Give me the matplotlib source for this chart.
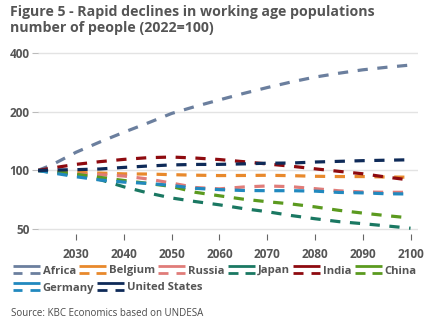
import matplotlib
matplotlib.use("Agg")
import matplotlib.pyplot as plt
from matplotlib.legend_handler import HandlerBase
from matplotlib.lines import Line2D
from matplotlib.ticker import FixedLocator, FixedFormatter, NullLocator

plt.rcParams['font.family'] = ['Open Sans', 'DejaVu Sans']

# Working-age population index, 2022 = 100 (UN DESA projections)
years = [2022, 2025, 2030, 2035, 2040, 2045, 2050, 2055, 2060,
         2065, 2070, 2075, 2080, 2085, 2090, 2095, 2100]

africa = [100, 107, 124, 140, 157, 175, 196, 213, 230,
          248, 266, 284, 301, 315, 328, 338, 347]
belgium = [100, 99.8, 97.8, 97.0, 96.1, 95.9, 95.2, 94.6, 94.2,
           94.3, 94.5, 94.1, 93.4, 93.1, 93.1, 92.6, 92.4]
russia = [100, 98.5, 95.8, 95.1, 93.7, 90.5, 86.2, 81.8, 80.5,
          82.3, 83.3, 82.6, 80.7, 78.7, 77.6, 77.3, 77.3]
japan = [100, 97.8, 94.7, 89.8, 82.5, 76.8, 72.3, 69.3, 66.7,
         63.8, 61.5, 58.8, 56.6, 54.7, 53.4, 52.0, 50.6]
india = [100, 103, 107.5, 111, 114, 116.3, 117.2, 115.8, 113.8,
         111, 108, 105.2, 102, 99, 96.2, 92.5, 89.3]
china = [100, 99.3, 95.7, 92.2, 88.9, 85.9, 82.8, 77.3, 74.2,
         71.3, 69.2, 67.4, 65.1, 62.5, 60.5, 58.7, 57.1]
germany = [100, 97.3, 92.9, 89.4, 87.2, 85.9, 83.8, 81.0, 79.8,
           79.0, 78.8, 78.8, 78.4, 77.2, 76.8, 76.0, 75.8]
united_states = [100, 100.5, 101, 101.8, 103.7, 105.4, 106.8, 107.4, 107.5,
                 108.1, 109, 109.2, 110.5, 111.4, 112.3, 112.9, 113.5]

series = [
    ("Africa", africa, "#6B7F9E"),
    ("Belgium", belgium, "#E8892C"),
    ("Russia", russia, "#E07C79"),
    ("Japan", japan, "#1A7862"),
    ("India", india, "#8E0A0F"),
    ("China", china, "#5B9A1F"),
    ("Germany", germany, "#2189BF"),
    ("United States", united_states, "#0E2A58"),
]

y_ticks = [50, 100, 200, 400]
y_tick_labels = ["50", "100", "200", "400"]
x_ticks = [2030, 2040, 2050, 2060, 2070, 2080, 2090, 2100]

TEXT = "#555555"
GRID = "#E3E3E3"


class TwinBarHandler(HandlerBase):
    """Legend key: a solid bar above a split (dashed) bar."""

    def create_artists(self, legend, orig_handle, xdescent, ydescent,
                       width, height, fontsize, trans):
        c = orig_handle.get_color()
        ymid = height / 2.0 - ydescent
        x0 = -xdescent
        off = 2.4
        lw = 2.0
        top = Line2D([x0, x0 + width], [ymid + off, ymid + off],
                     color=c, lw=lw, solid_capstyle='butt', transform=trans)
        b1 = Line2D([x0, x0 + 0.36 * width], [ymid - off, ymid - off],
                    color=c, lw=lw, solid_capstyle='butt', transform=trans)
        b2 = Line2D([x0 + 0.64 * width, x0 + width], [ymid - off, ymid - off],
                    color=c, lw=lw, solid_capstyle='butt', transform=trans)
        return [top, b1, b2]


fig = plt.figure(figsize=(4.32, 3.32), dpi=100)
ax = fig.add_axes([0.0875, 0.2937, 0.8794, 0.553])

handles = []
for name, vals, col in series:
    ln, = ax.plot(years, vals, color=col, lw=2.3, linestyle=(0, (3.2, 3.0)),
                  dash_capstyle='butt', label=name)
    handles.append(ln)

ax.set_yscale('log')
ax.set_ylim(47, 410)
ax.set_xlim(2022, 2101.5)
ax.yaxis.set_major_locator(FixedLocator(y_ticks))
ax.yaxis.set_major_formatter(FixedFormatter(y_tick_labels))
ax.yaxis.set_minor_locator(NullLocator())
ax.set_xticks(x_ticks)
ax.set_xticklabels([str(x) for x in x_ticks])

for s in ax.spines.values():
    s.set_visible(False)
ax.grid(axis='y', color=GRID, lw=1.0)
ax.set_axisbelow(True)
ax.tick_params(axis='y', length=4, width=0.8, color="#BBBBBB", pad=2,
               labelsize=8.5, labelcolor=TEXT)
ax.tick_params(axis='x', length=4, width=0.8, color="#666666", pad=6,
               labelsize=8.5, labelcolor=TEXT)
for lab in ax.get_xticklabels() + ax.get_yticklabels():
    lab.set_fontweight('bold')

fig.text(10 / 432, 1 - 5 / 332,
         "Figure 5 - Rapid declines in working age populations\nnumber of people (2022=100)",
         ha='left', va='top', fontsize=10.2, fontweight='bold', color=TEXT,
         linespacing=1.22)

leg_kw = dict(frameon=False, borderpad=0, borderaxespad=0, handlelength=2.4,
              handletextpad=0.25, columnspacing=0.3,
              handler_map={Line2D: TwinBarHandler()},
              prop={'size': 8.1, 'weight': 'bold'}, labelcolor=TEXT)
fig.legend(handles[:6], [s[0] for s in series[:6]], loc='center left',
           bbox_to_anchor=(12.7 / 432, 1 - 271 / 332), ncol=6, **leg_kw)
fig.legend(handles[6:], [s[0] for s in series[6:]], loc='center left',
           bbox_to_anchor=(12.7 / 432, 1 - 288 / 332), ncol=2, **leg_kw)

fig.text(11 / 432, 1 - 313 / 332, "Source: KBC Economics based on UNDESA",
         ha='left', va='center', fontsize=7, color="#4A4A4A")

fig.savefig("out.png", dpi=100)
